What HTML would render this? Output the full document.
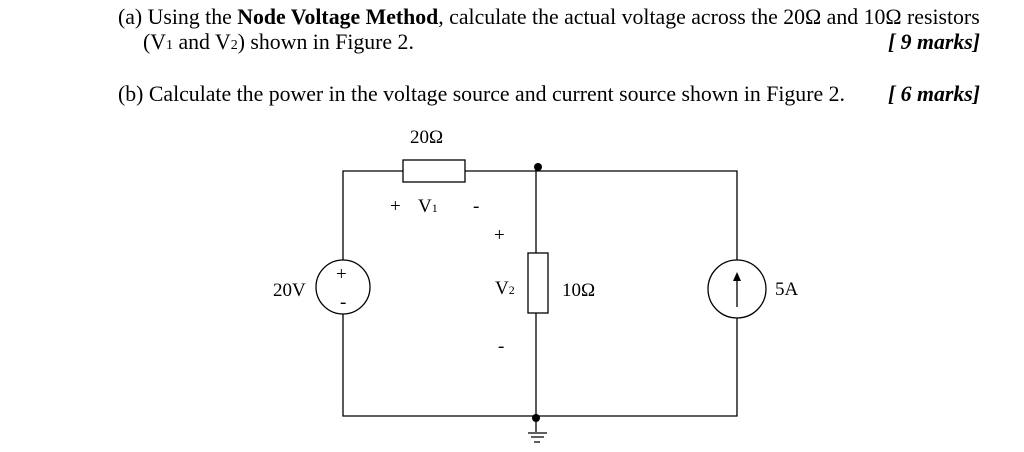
<!DOCTYPE html>
<html><head><style>
body{margin:0;width:1024px;height:452px;background:#fff;overflow:hidden;font-family:"Liberation Serif",serif;color:#000}
.t{position:absolute;font-size:21.8px;white-space:nowrap}
.r{position:absolute;font-size:21.8px;white-space:nowrap;right:44px}
</style></head><body>
<div class="t" style="left:118px;top:5px">(a) Using the <b>Node Voltage Method</b>, calculate the actual voltage across the 20Ω and 10Ω resistors</div>
<div class="t" style="left:143px;top:30px">(V<span style="font-size:14px">1</span> and V<span style="font-size:14px">2</span>) shown in Figure 2.</div>
<div class="r" style="top:30px"><b><i>[ 9 marks]</i></b></div>
<div class="t" style="left:118px;top:82px">(b) Calculate the power in the voltage source and current source shown in Figure 2.</div>
<div class="r" style="top:82px"><b><i>[ 6 marks]</i></b></div>
<svg width="1024" height="452" style="position:absolute;left:0;top:0" font-family="Liberation Serif, serif" font-size="19">
<g stroke="#000" stroke-width="1.3" fill="none">
<path d="M343 260V171H403M465 171H737V260M343 314V416H737V318M536 167V253M536 313V418M536 418V432"/>
<rect x="403" y="160" width="62" height="22" fill="#fff"/>
<rect x="528" y="253" width="20" height="60" fill="#fff"/>
<circle cx="343" cy="287" r="27" fill="#fff"/>
<circle cx="737" cy="289" r="29" fill="#fff"/>
<path d="M737 307V278"/>
<path d="M528 433H547M531 437H544M534 442H540"/>
</g>
<path d="M737 272L733 281H741Z" fill="#000"/>
<circle cx="538" cy="167" r="4"/><circle cx="536" cy="418" r="4"/>
<text x="410" y="143">20Ω</text>
<text x="390" y="212">+</text><text x="418" y="212">V<tspan font-size="12">1</tspan></text><text x="473" y="212">-</text>
<text x="494" y="241">+</text><text x="495" y="294">V<tspan font-size="12">2</tspan></text><text x="498" y="352">-</text>
<text x="562" y="296">10Ω</text>
<text x="273" y="296">20V</text>
<text x="336" y="280">+</text><text x="340" y="308">-</text>
<text x="775" y="295">5A</text>
</svg>
</body></html>
